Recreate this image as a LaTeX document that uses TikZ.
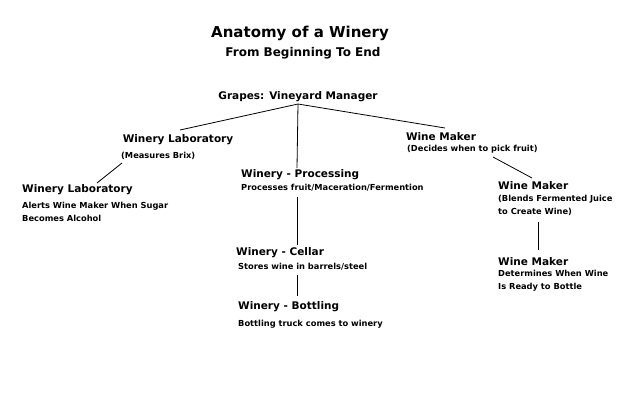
\documentclass[tikz,border=0pt]{standalone}
\usepackage{fontspec}
\setmainfont{DejaVu Sans}
\begin{document}
\begin{tikzpicture}[x=1pt,y=-1pt,
  hd/.style={font=\bfseries\fontsize{10.5}{12}\selectfont,inner sep=0pt},
  sb/.style={font=\bfseries\fontsize{8.3}{13}\selectfont,inner sep=0pt,align=left},
  ln/.style={line width=0.8pt}]
\useasboundingbox[fill=white] (0,0) rectangle (640,400);
\node[font=\bfseries\fontsize{15}{18}\selectfont,inner sep=0pt] (t) at (300,33) {Anatomy of a Winery};
\node[font=\bfseries\fontsize{12}{14}\selectfont,inner sep=0pt] (s) at (303,53) {From Beginning To End};
\node[hd] (g) at (298,97) {Grapes: Vineyard Manager};
\node[hd] (l1) at (178,140) {Winery Laboratory};
\node[sb,anchor=west] (l1s) at (121,156) {(Measures Brix)};
\node[hd,anchor=west] (l2) at (22,190) {Winery Laboratory};
\node[sb,anchor=north west] (l2s) at (22,202) {Alerts Wine Maker When Sugar\\Becomes Alcohol};
\node[hd] (w1) at (441,137) {Wine Maker};
\node[sb,anchor=west] (w1s) at (407,149) {(Decides when to pick fruit)};
\node[hd,anchor=west] (w2) at (498,186) {Wine Maker};
\node[sb,anchor=north west] (w2s) at (498,195) {(Blends Fermented Juice\\to Create Wine)};
\node[hd,anchor=west] (w3) at (498,262) {Wine Maker};
\node[sb,anchor=north west] (w3s) at (498,270) {Determines When Wine\\Is Ready to Bottle};
\node[hd,anchor=west] (p) at (241,175) {Winery - Processing};
\node[sb,anchor=west] (ps) at (241,188) {Processes fruit/Maceration/Fermention};
\node[hd,anchor=west] (c) at (236,253) {Winery - Cellar};
\node[sb,anchor=west] (cs) at (238,267) {Stores wine in barrels/steel};
\node[hd,anchor=west] (b) at (238,307) {Winery - Bottling};
\node[sb,anchor=west] (bs) at (238,324) {Bottling truck comes to winery};
\coordinate (g0) at (298,104);
\coordinate (pa) at (297,168);
\draw[ln] (g0) -- (180,130) coordinate (l1t);
\draw[ln] (g0) -- (pa);
\draw[ln] (g0) -- (445,128) coordinate (w1t);
\draw[ln] (122,163) coordinate (a1) -- (97,183) coordinate (a2);
\draw[ln] (493,157) coordinate (b1) -- (532,178) coordinate (b2);
\draw[ln] (538,222) coordinate (c1) -- (538,250) coordinate (c2);
\draw[ln] (297,197) coordinate (d1) -- (297,245) coordinate (d2);
\draw[ln] (297,275) coordinate (e1) -- (297,296) coordinate (e2);
\end{tikzpicture}
\end{document}
